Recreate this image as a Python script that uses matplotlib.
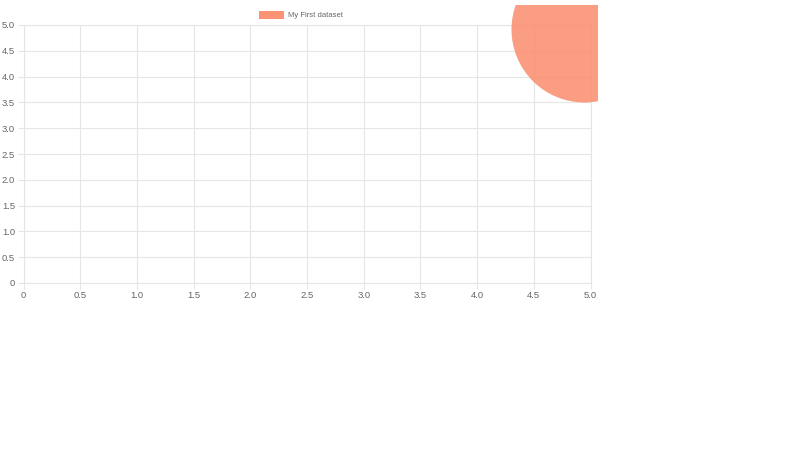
import matplotlib
matplotlib.use("Agg")
import matplotlib.pyplot as plt
from matplotlib.patches import Patch, Rectangle

# data (bubble chart, radius given in pixels like chart.js)
label = "My First dataset"
xs = [4.94]
ys = [4.92]
radii_px = [73]

fill = "#fb9274"
grid_col = "#e6e6e6"
text_col = "#666666"

plt.rcParams['font.family'] = ['Liberation Sans', 'DejaVu Sans']

fig = plt.figure(figsize=(8, 4.5), dpi=100)
ax = fig.add_axes([23.5 / 800, 1 - 283 / 450, (590.5 - 23.5) / 800, (283 - 25) / 450])

ax.set_xlim(0, 5)
ax.set_ylim(0, 5)
ticks = [0, 0.5, 1, 1.5, 2, 2.5, 3, 3.5, 4, 4.5, 5]
ticklabels = ['0', '0.5', '1.0', '1.5', '2.0', '2.5', '3.0', '3.5', '4.0', '4.5', '5.0']
ax.set_xticks(ticks)
ax.set_xticklabels(ticklabels)
ax.set_yticks(ticks)
ax.set_yticklabels(ticklabels)
ax.grid(True, color=grid_col, linewidth=0.8)
ax.set_axisbelow(True)
ax.tick_params(length=4, width=0.8, color=grid_col, labelcolor=text_col,
               labelsize=6.8, pad=2)
for s in ax.spines.values():
    s.set_color(grid_col)
    s.set_linewidth(0.8)

# marker size in points^2 from pixel radius
sizes = [(2 * r * 72 / fig.dpi) ** 2 for r in radii_px]
sc = ax.scatter(xs, ys, s=sizes, color=fill, alpha=0.9, linewidths=0, zorder=3)
# chart.js clips a bit outside the chart area (display pixels, origin bottom-left)
clip = Rectangle((0, 0), 597, 445, transform=None)
sc.set_clip_path(clip)

fig.legend(handles=[Patch(facecolor=fill, edgecolor='none', label=label)],
           loc='center', bbox_to_anchor=(301 / 800, 1 - 15 / 450),
           frameon=False, fontsize=5.5, labelcolor=text_col,
           handlelength=3.3, handleheight=1.3, handletextpad=0.5)

fig.savefig("out.png", dpi=100)
